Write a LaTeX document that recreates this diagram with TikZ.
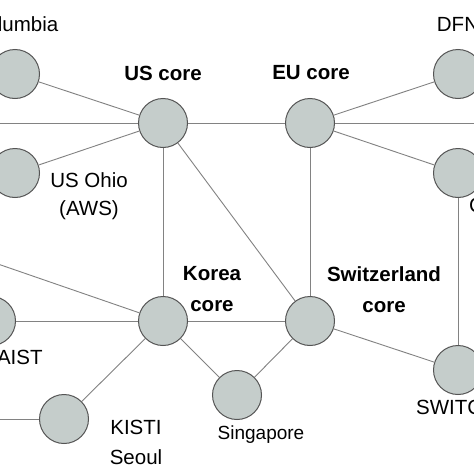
\documentclass[tikz,border=0pt]{standalone}
\usepackage{fontspec}
\setmainfont{Liberation Sans}
\definecolor{sitefill}{RGB}{197,205,203}
\definecolor{sitedraw}{RGB}{85,85,85}
\definecolor{linkgray}{RGB}{130,130,130}
\begin{document}
\begin{tikzpicture}[x=1pt, y=-1pt,
  site/.style={circle, minimum size=49pt, inner sep=0pt, fill=sitefill, draw=sitedraw, line width=1pt},
  link/.style={draw=linkgray, line width=0.9pt},
  lbl/.style={font=\fontsize{20.5}{29}\selectfont, inner sep=0pt, align=center},
  blbl/.style={font=\fontsize{20.5}{31}\selectfont\bfseries, inner sep=0pt, align=center}]
\useasboundingbox (0,0) rectangle (474,474);
\clip (0,0) rectangle (474,474);
\fill[white] (0,0) rectangle (474,474);
% sites
\node[site] (uscore) at (163,123){};
\node[site] (eucore) at (310,123){};
\node[site] (korea) at (163,321){};
\node[site] (swiss) at (310,321){};
\node[site] (columbia) at (15,74){};
\node[site] (ohio) at (15,173){};
\node[site] (dfn) at (458,74){};
\node[site] (cern) at (458,173){};
\node[site] (switch) at (458,370){};
\node[site] (kaist) at (-9,321){};
\node[site] (kisti) at (64,419){};
\node[site] (singapore) at (237,395){};
% links leaving the picture
\coordinate (westus) at (-40,123);
\coordinate (westkr) at (-60,244);
\coordinate (westkisti) at (-40,419);
\coordinate (easteu) at (520,123);
% links
\draw[link](columbia) -- (uscore);
\draw[link](westus) -- (uscore);
\draw[link](ohio) -- (uscore);
\draw[link](uscore) -- (eucore);
\draw[link](uscore) -- (korea);
\draw[link](uscore) -- (swiss);
\draw[link](eucore) -- (dfn);
\draw[link](eucore) -- (easteu);
\draw[link](eucore) -- (cern);
\draw[link](eucore) -- (swiss);
\draw[link](cern) -- (switch);
\draw[link](korea) -- (swiss);
\draw[link](kaist) -- (korea);
\draw[link](westkr) -- (korea);
\draw[link](kisti) -- (korea);
\draw[link](korea) -- (singapore);
\draw[link](singapore) -- (swiss);
\draw[link](swiss) -- (switch);
\draw[link](westkisti) -- (kisti);
% labels
\node[lbl] (columbialbl) at (15,24){Columbia};
\node[blbl] (uscorelbl) at (163,73){US core};
\node[blbl] (eucorelbl) at (311,73){EU core};
\node[lbl] (dfnlbl) at (458,24){DFN};
\node[lbl, font=\fontsize{20.5}{28}\selectfont] (ohiolbl) at (89,196){US Ohio\\(AWS)};
\node[lbl, anchor=west] (cernlbl) at (469,205){CERN};
\node[blbl] (korealbl) at (212,289.5){Korea\\core};
\node[blbl] (swisslbl) at (384,289.5){Switzerland\\core};
\node[lbl] (kaistlbl) at (13,357){KAIST};
\node[lbl, font=\fontsize{20.5}{30}\selectfont] (kistilbl) at (136,442){KISTI\\Seoul};
\node[lbl, font=\fontsize{19}{24}\selectfont] (singaporelbl) at (261,435){Singapore};
\node[lbl, anchor=west] (switchlbl) at (416,407){SWITCH};
\end{tikzpicture}
\end{document}
